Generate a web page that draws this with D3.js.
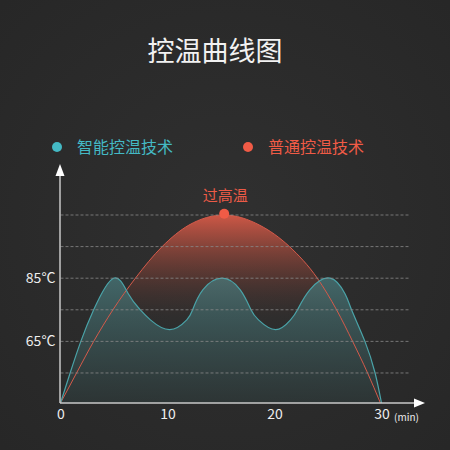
<!DOCTYPE html>
<html><head><meta charset="utf-8">
<script src="https://cdn.jsdelivr.net/npm/d3@7"></script>
<style>
html,body{margin:0;padding:0;background:#2b2b2b;}
svg{display:block;}
text{font-family:"Noto Sans CJK SC","Noto Sans",sans-serif;}
</style></head>
<body>
<svg id="c" width="450" height="450"></svg>
<script>
// ---- data (time in min, temperature in °C) ----
const title = "控温曲线图";
const seriesNames = ["智能控温技术", "普通控温技术"];
const seriesColors = ["#44b9c4", "#f05b46"];
const xTicks = [0, 10, 20, 30];
const yTicks = [65, 85];
const gridValues = [55, 65, 75, 85, 95, 105];
const smartT = [0, 0.9, 1.9, 3.1, 4.95, 6.35, 7.45, 8.4, 10.2, 11.8, 12.35, 13.3, 15.1, 16.8, 17.8, 18.5, 20.1, 21.5, 22.15, 23.3, 25.2, 26.6, 27.2, 28.45, 29.4, 30];
const smartV = [45.5, 55, 65, 75, 85, 80, 75, 71.8, 68.7, 71.8, 75, 81.3, 85, 81.3, 75, 71.8, 68.7, 71.8, 75, 81.3, 85, 80, 75, 65, 55, 45.5];
const normalT = [0, 1.5, 3.1, 4.9, 7.0, 9.5, 12.0, 15.3, 18.6, 21.4, 24.0, 25.8, 27.3, 28.7, 29.9];
const normalV = [45.5, 55, 65, 75, 85, 95, 101.8, 105, 101.8, 95, 85, 75, 65, 55, 45.5];
const peakLabel = "过高温";
const peakT = 15.3, peakV = 105.4;
const unitLabel = "(min)";

const svg = d3.select("#c");
const W = 450, H = 450;

// background
const defs = svg.append("defs");
const bg = defs.append("radialGradient").attr("id","bg").attr("cx","50%").attr("cy","50%").attr("r","70%");
bg.append("stop").attr("offset","0%").attr("stop-color","#303030");
bg.append("stop").attr("offset","100%").attr("stop-color","#272727");
svg.append("rect").attr("width",W).attr("height",H).attr("fill","url(#bg)");

const x = d3.scaleLinear().domain([0, 30]).range([60.5, 381.5]);
const y = d3.scaleLinear().domain([45.5, 105]).range([403, 215]);

// gradients
const gRed = defs.append("linearGradient").attr("id","gRed").attr("gradientUnits","userSpaceOnUse")
  .attr("x1",0).attr("x2",0).attr("y1",y(105)).attr("y2",y(45.5));
gRed.append("stop").attr("offset","0%").attr("stop-color","#dc5b48").attr("stop-opacity",0.92);
gRed.append("stop").attr("offset","33%").attr("stop-color","#8a4236").attr("stop-opacity",0.4);
gRed.append("stop").attr("offset","62%").attr("stop-color","#2b2b2b").attr("stop-opacity",0);

const gTeal = defs.append("linearGradient").attr("id","gTeal").attr("gradientUnits","userSpaceOnUse")
  .attr("x1",0).attr("x2",0).attr("y1",y(85)).attr("y2",y(45.5));
gTeal.append("stop").attr("offset","0%").attr("stop-color","#4a7c7e").attr("stop-opacity",0.72);
gTeal.append("stop").attr("offset","100%").attr("stop-color","#2f3d3d").attr("stop-opacity",0.55);

const normal = normalT.map((t,i)=>[t, normalV[i]]);
const smart = smartT.map((t,i)=>[t, smartV[i]]);

const areaN = d3.area().x(d=>x(d[0])).y0(y(45.5)).y1(d=>y(d[1])).curve(d3.curveMonotoneX);
const lineN = d3.line().x(d=>x(d[0])).y(d=>y(d[1])).curve(d3.curveMonotoneX);
const areaS = d3.area().x(d=>x(d[0])).y0(y(45.5)).y1(d=>y(d[1])).curve(d3.curveNatural);
const lineS = d3.line().x(d=>x(d[0])).y(d=>y(d[1])).curve(d3.curveNatural);

svg.append("path").attr("d", areaN(normal)).attr("fill","url(#gRed)");
svg.append("path").attr("d", areaS(smart)).attr("fill","url(#gTeal)");
svg.append("path").attr("d", lineN(normal)).attr("fill","none").attr("stroke","#d45a4a").attr("stroke-width",1);
svg.append("path").attr("d", lineS(smart)).attr("fill","none").attr("stroke","#4aa3a8").attr("stroke-width",1.2);

// gridlines (on top of fills)
svg.append("g").selectAll("line").data(gridValues).join("line")
  .attr("x1", x(0)).attr("x2", x(32.6))
  .attr("y1", d => y(d)).attr("y2", d => y(d))
  .attr("stroke", "#8a8a8a").attr("stroke-opacity", 0.8).attr("stroke-width", 1).attr("stroke-dasharray", "3,2");

// axes
const axisColor = "#c8c8c8";
svg.append("line").attr("x1", x(0)-0.5).attr("x2", 416).attr("y1", y(45.5)).attr("y2", y(45.5)).attr("stroke", axisColor).attr("stroke-width",1.5);
svg.append("line").attr("x1", x(0)-0.5).attr("x2", x(0)-0.5).attr("y1", y(45.5)).attr("y2", 174).attr("stroke", axisColor).attr("stroke-width",1.5);
svg.append("path").attr("d", `M425,${y(45.5)} L414,${y(45.5)-4.5} L414,${y(45.5)+4.5} Z`).attr("fill","#fff");
svg.append("path").attr("d", `M${x(0)-0.5},164 L${x(0)-5},176 L${x(0)+4},176 Z`).attr("fill","#fff");

const xa = svg.append("g").attr("transform", `translate(0,${y(45.5)})`)
  .call(d3.axisBottom(x).tickValues(xTicks).tickSize(0).tickPadding(6).tickFormat(d3.format("d")));
xa.select(".domain").remove();
xa.selectAll("text").attr("fill","#eeeeee").attr("font-size",14).style("font-family","'Noto Sans CJK SC',sans-serif");

svg.append("text").attr("x", 394).attr("y", 421).attr("fill","#eeeeee").attr("font-size",10).text(unitLabel);

const ya = svg.append("g").attr("transform", `translate(${x(0)},0)`)
  .call(d3.axisLeft(y).tickValues(yTicks).tickSize(0).tickPadding(5).tickFormat(d => d + "°C"));
ya.select(".domain").remove();
ya.selectAll("text").attr("fill","#eeeeee").attr("font-size",14).style("font-family","'Noto Sans CJK SC',sans-serif");

// peak
svg.append("circle").attr("cx", x(peakT)).attr("cy", y(peakV)).attr("r", 5).attr("fill", "#f05b46");
svg.append("text").attr("x", x(peakT)+1).attr("y", 201).attr("text-anchor","middle")
  .attr("fill","#ec5b47").attr("font-size",15).text(peakLabel);

// title
svg.append("text").attr("x", 215).attr("y", 61).attr("text-anchor","middle")
  .attr("fill","#f2f2f2").attr("font-size",27).text(title);

// legend
const legX = [57, 248];
seriesNames.forEach((n,i)=>{
  svg.append("circle").attr("cx", legX[i]).attr("cy", 147).attr("r", 5).attr("fill", seriesColors[i]);
  svg.append("text").attr("x", legX[i]+20).attr("y", 152.5).attr("fill", seriesColors[i]).attr("font-size",16).text(n);
});
</script>
</body></html>
